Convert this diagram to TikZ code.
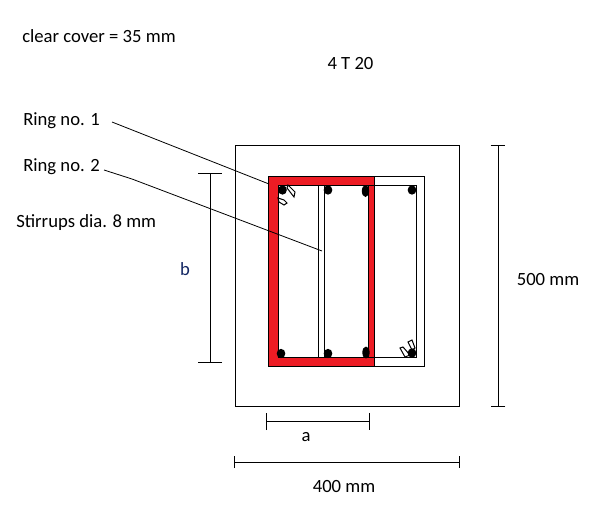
\documentclass[tikz,border=0pt]{standalone}
\usepackage{fontspec}
\setmainfont{Carlito}
\usetikzlibrary{arrows.meta,shapes.geometric}
\definecolor{ringred}{RGB}{237,28,36}
\definecolor{labelblue}{RGB}{20,40,100}
\tikzset{
  outline/.style={draw=black,line width=0.75pt},
  label/.style={inner sep=0pt,font=\fontsize{14pt}{16pt}\selectfont},
  leader/.style={line width=0.6pt},
  dimline/.style={line width=0.75pt,{Bar[width=#1,line width=0.75pt]}-{Bar[width=#1,line width=0.75pt]}},
  hook/.style={outline,fill=white},
  rebar/.style={ellipse,fill=black,inner sep=0pt,minimum width=6.5pt,minimum height=7pt},
  rebartall/.style={rebar,minimum width=5.5pt,minimum height=9pt},
}
\begin{document}
\begin{tikzpicture}[x=0.75pt,y=-0.75pt]
  \useasboundingbox (0,0) rectangle (612,529);
  \coordinate (R1start) at (112,122);
  \coordinate (R1end) at (269,184);
  \coordinate (R2start) at (104,170);
  \coordinate (R2kink) at (132,179);
  \coordinate (R2end) at (322,251);
  \coordinate (Btop) at (210,173);
  \coordinate (Bbot) at (210,363);
  \coordinate (Htop) at (498,145);
  \coordinate (Hbot) at (498,407);
  \coordinate (Aleft) at (266,421.5);
  \coordinate (Aright) at (370,421.5);
  \coordinate (Wleft) at (234,462);
  \coordinate (Wright) at (460,462);
% section
\draw[outline] (235,145) rectangle (459,406);
% ring no. 2
\draw[outline] (318.5,176) rectangle (424,366);
\draw[outline] (324,185) rectangle (416,357);
% ring no. 1
\fill[ringred,even odd rule] (268.5,176) rectangle (374,366) (278,185) rectangle (368,357);
\draw[outline] (268.5,176) rectangle (374,366);
\draw[outline] (278,185) rectangle (368,357);
\draw[outline] (368,185)--(416,185);
\draw[outline] (368,357)--(416,357);
\draw[outline] (324,185)--(324,357);
% hooks
\draw[hook] (288,185)--(295,192)--(294,197)--(287,188)--cycle;
\draw[hook] (278,198)--(284,200)--(287,203)--(284,205)--(279,202)--cycle;
\draw[hook] (400,348)--(403,347)--(410,355)--(405,357)--cycle;
\draw[hook] (408,342)--(412,340)--(415,348)--(412,350)--cycle;
% main bars
\node[rebar] (topa) at (282.5,190) {};
\node[rebar] (topb) at (328,190) {};
\node[rebartall] (topc) at (365.5,191) {};
\node[rebar] (topd) at (412,190) {};
\node[rebar] (bota) at (281,353.5) {};
\node[rebar] (botb) at (328,353.5) {};
\node[rebartall] (botc) at (366,352.5) {};
\node[rebar] (botd) at (412,353) {};
% leaders
\draw[leader] (R1start)--(R1end);
\draw[leader] (R2start)--(R2kink)--(R2end);
% dimensions
\draw[dimline=18pt] (Btop)--(Bbot);
\draw[dimline=11pt] (Htop)--(Hbot);
\draw[dimline=13pt] (Aleft)--(Aright);
\draw[dimline=9pt] (Wleft)--(Wright);
% labels
\node[label,anchor=west] (cover) at (22,36) {clear cover = 35 mm};
\node[label] (mainsteel) at (350.5,64) {4 T 20};
\node[label,anchor=west] (ringone) at (23,121) {Ring no. 1};
\node[label,anchor=west] (ringtwo) at (23,167) {Ring no. 2};
\node[label,anchor=west] (stirrups) at (16,223) {Stirrups dia. 8 mm};
\node[label,text=labelblue] (bdim) at (185,269) {b};
\node[label] (adim) at (306,437) {a};
\node[label] (height) at (548,280) {500 mm};
\node[label] (width) at (344,487) {400 mm};
\end{tikzpicture}
\end{document}
